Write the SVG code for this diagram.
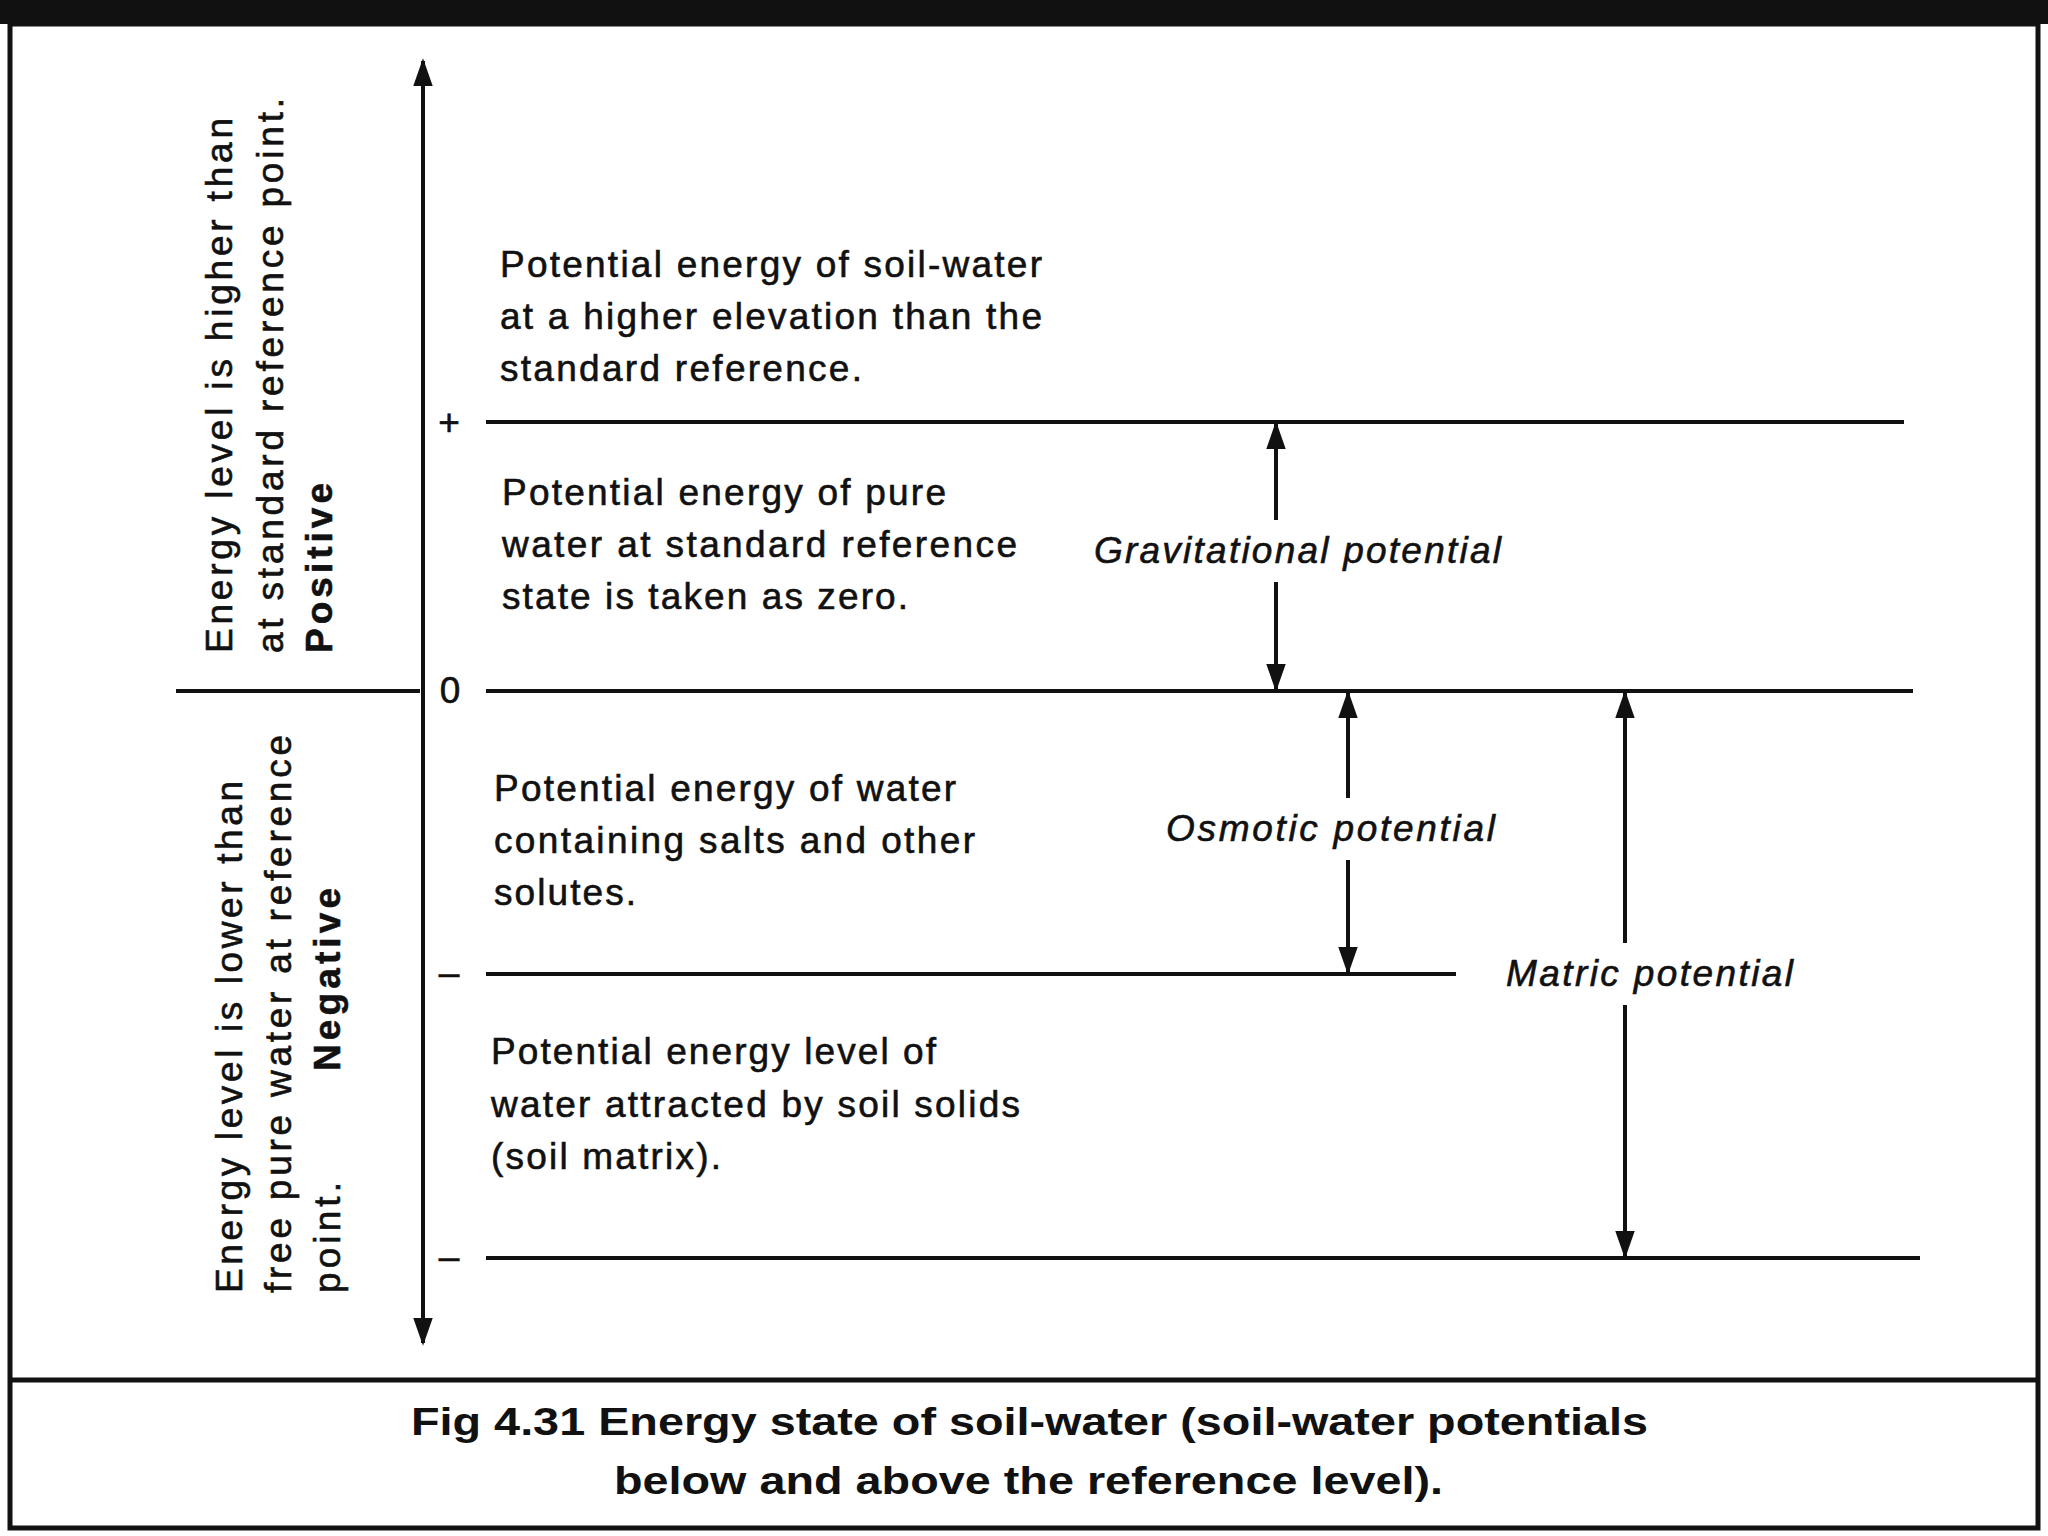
<svg xmlns="http://www.w3.org/2000/svg" width="2048" height="1536" viewBox="0 0 2048 1536">
<style>
.t{font-family:"Liberation Sans",Arial,sans-serif;font-size:37px;fill:#111;stroke:#111;stroke-width:0.6}
.i{font-family:"Liberation Sans",Arial,sans-serif;font-size:37px;font-style:italic;fill:#111;stroke:#111;stroke-width:0.6}
.b{font-weight:bold}
.c{font-family:"Liberation Sans",Arial,sans-serif;font-size:38px;font-weight:bold;fill:#111}
.l{stroke:#111;stroke-width:4;fill:none}
</style>
<defs>
<marker id="m" viewBox="0 0 10 10" refX="9" refY="5" markerWidth="28" markerHeight="28" orient="auto-start-reverse" markerUnits="userSpaceOnUse"><path d="M0,1.5 L10,5 L0,8.5 z" fill="#111"/></marker>
</defs>
<rect x="0" y="0" width="2048" height="1536" fill="#fff"/>
<rect x="0" y="0" width="2048" height="24" fill="#111"/>
<rect x="10" y="24" width="2028" height="1504" fill="none" stroke="#111" stroke-width="5"/>
<line x1="10" y1="1380" x2="2038" y2="1380" stroke="#111" stroke-width="5"/>
<g id="connectors">
<line class="l" x1="423" y1="1343" x2="423" y2="61" marker-start="url(#m)" marker-end="url(#m)"/>
<line class="l" x1="176" y1="691" x2="420" y2="691"/>
<line class="l" x1="486" y1="691" x2="1913" y2="691"/>
<line class="l" x1="486" y1="422" x2="1904" y2="422"/>
<line class="l" x1="486" y1="974" x2="1456" y2="974"/>
<line class="l" x1="486" y1="1258" x2="1920" y2="1258" stroke-width="3"/>
<line class="l" x1="1276" y1="520" x2="1276" y2="424" stroke-width="3" marker-end="url(#m)"/>
<line class="l" x1="1276" y1="582" x2="1276" y2="689" stroke-width="3" marker-end="url(#m)"/>
<line class="l" x1="1348" y1="798" x2="1348" y2="693" stroke-width="3" marker-end="url(#m)"/>
<line class="l" x1="1348" y1="860" x2="1348" y2="972" stroke-width="3" marker-end="url(#m)"/>
<line class="l" x1="1625" y1="943" x2="1625" y2="693" stroke-width="3" marker-end="url(#m)"/>
<line class="l" x1="1625" y1="1005" x2="1625" y2="1256" stroke-width="3" marker-end="url(#m)"/>
</g>
<g id="ticks">
<text class="t" x="449" y="435" text-anchor="middle" font-size="28">+</text>
<text class="t" x="450" y="703" text-anchor="middle" font-size="30">0</text>
<text class="t" x="449" y="985" text-anchor="middle">–</text>
<text class="t" x="449" y="1269" text-anchor="middle">–</text>
</g>
<g id="n1"><text class="t" x="500" y="277" textLength="542">Potential energy of soil-water</text><text class="t" x="500" y="329" textLength="542">at a higher elevation than the</text><text class="t" x="500" y="381" textLength="362">standard reference.</text></g>
<g id="n2"><text class="t" x="502" y="505" textLength="444">Potential energy of pure</text><text class="t" x="502" y="557" textLength="515">water at standard reference</text><text class="t" x="502" y="609" textLength="406">state is taken as zero.</text></g>
<g id="n3"><text class="t" x="494" y="801" textLength="462">Potential energy of water</text><text class="t" x="494" y="853" textLength="481">containing salts and other</text><text class="t" x="494" y="905" textLength="142">solutes.</text></g>
<g id="n4"><text class="t" x="491" y="1064" textLength="445">Potential energy level of</text><text class="t" x="491" y="1117" textLength="529">water attracted by soil solids</text><text class="t" x="491" y="1169" textLength="230">(soil matrix).</text></g>
<g id="labels">
<text class="i" x="1094" y="563" textLength="407">Gravitational potential</text>
<text class="i" x="1166" y="841" textLength="329">Osmotic potential</text>
<text class="i" x="1506" y="986" textLength="287">Matric potential</text>
</g>
<g id="side-pos">
<text class="t" transform="translate(232,653) rotate(-90)" textLength="535">Energy level is higher than</text>
<text class="t" transform="translate(283,653) rotate(-90)" textLength="555">at standard reference point.</text>
<text class="t b" transform="translate(332,653) rotate(-90)" textLength="170">Positive</text>
</g>
<g id="side-neg">
<text class="t" transform="translate(242,1293) rotate(-90)" textLength="512">Energy level is lower than</text>
<text class="t" transform="translate(291,1293) rotate(-90)" textLength="558">free pure water at reference</text>
<text class="t" transform="translate(340,1293) rotate(-90)" textLength="111">point.</text>
<text class="t b" transform="translate(340,1071) rotate(-90)" textLength="183">Negative</text>
</g>
<g id="caption">
<text class="c" x="411" y="1435" textLength="1237" lengthAdjust="spacingAndGlyphs">Fig 4.31 Energy state of soil-water (soil-water potentials</text>
<text class="c" x="614" y="1494" textLength="829" lengthAdjust="spacingAndGlyphs">below and above the reference level).</text>
</g>
</svg>
